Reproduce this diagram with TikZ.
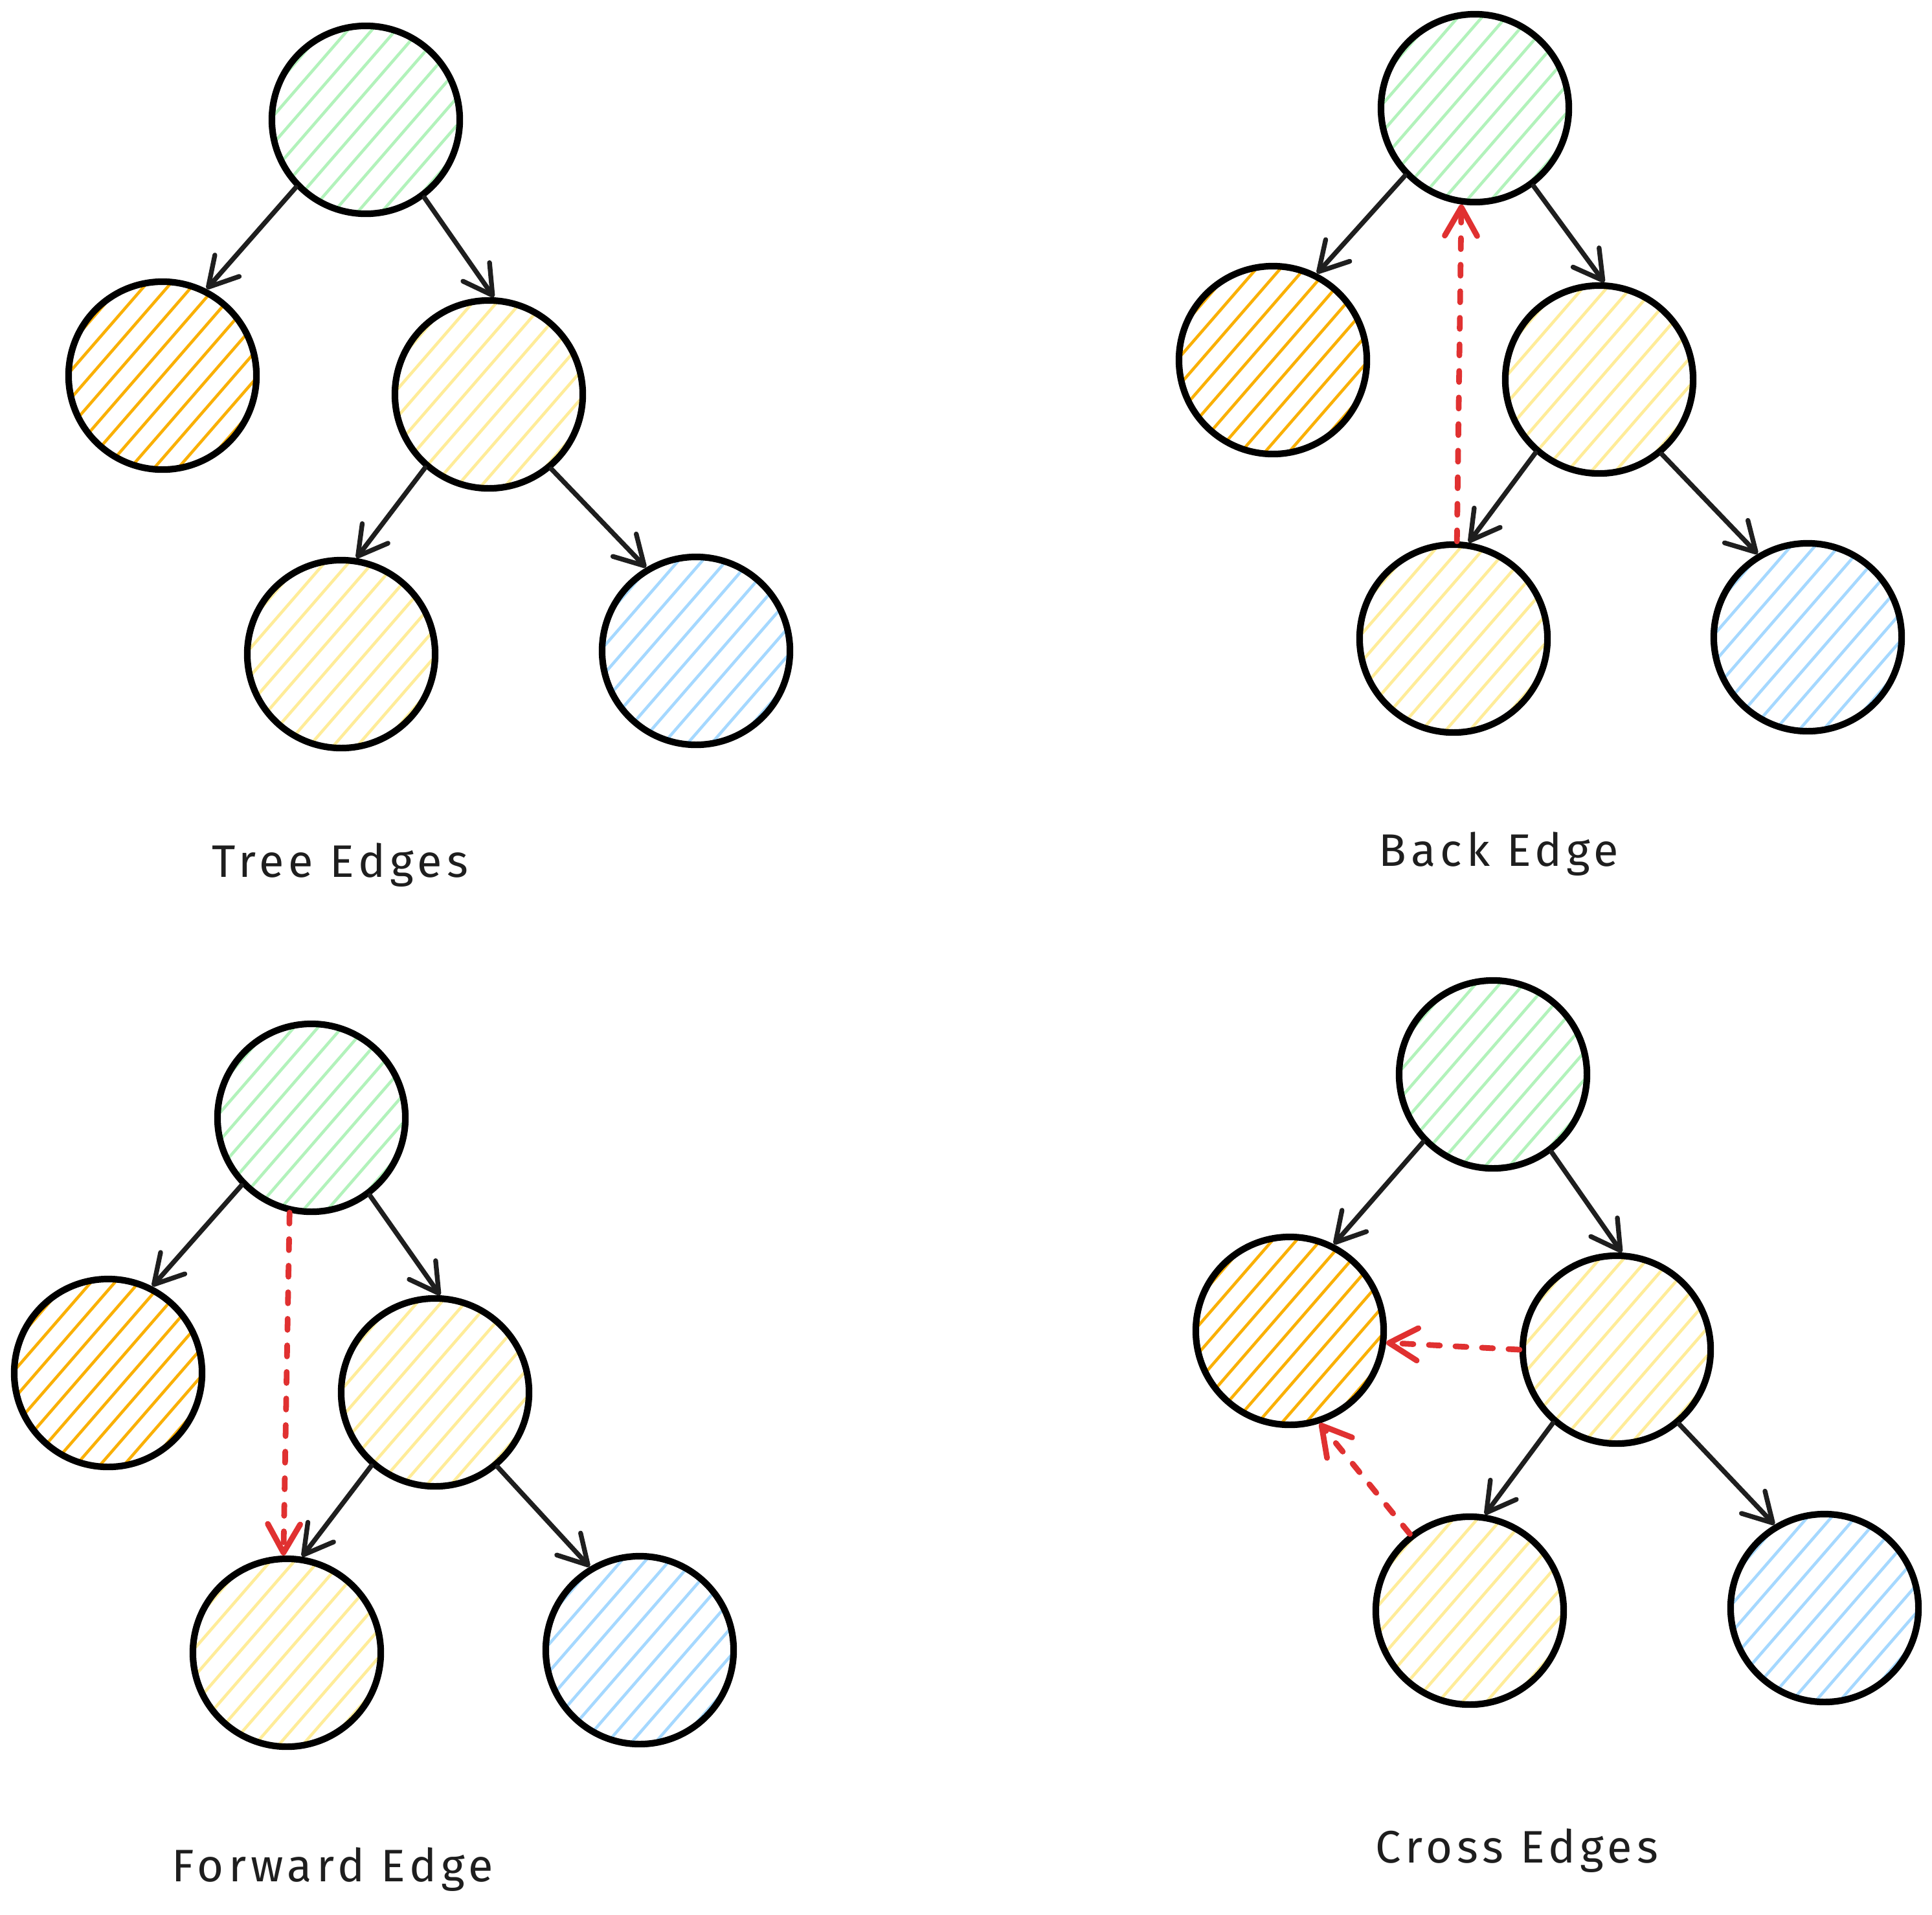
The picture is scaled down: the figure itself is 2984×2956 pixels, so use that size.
\documentclass[tikz,border=0pt]{standalone}
\usepackage{fontspec}
\setmainfont{Fira Sans}
\usetikzlibrary{arrows.meta,calc}
\definecolor{ink}{HTML}{1E1E1E}
\definecolor{hgreen}{HTML}{B2F2BB}
\definecolor{horange}{HTML}{FAB005}
\definecolor{hyellow}{HTML}{FFEC99}
\definecolor{hblue}{HTML}{A5D8FF}
\definecolor{edgered}{HTML}{E03131}
\tikzset{
  vertex/.style={circle,draw=black,line width=2.9pt,minimum size=2.9cm,inner sep=0pt,
    path picture={\foreach \k in {-7,...,7}
      \draw[#1,line width=1.3pt,line cap=round] ($(path picture bounding box.center)+(\k*0.37cm-1.65cm,-1.9cm)$) -- ++(3.3cm,3.8cm);}},
  tree/.style={-{Straight Barb[length=0.44cm,width=0.5cm,round]},ink,line width=2.1pt,line cap=round},
  extra/.style={-{Straight Barb[length=0.44cm,width=0.5cm,round]},edgered,line width=2.5pt,line cap=round,
    dash pattern=on 0.17cm off 0.24cm},
  caption/.style={text=ink,font=\fontsize{20}{24}\selectfont\addfontfeatures{LetterSpace=10}}
}
\begin{document}
\begin{tikzpicture}[x=0.01cm,y=-0.01cm]
\useasboundingbox (0,0) rectangle (2984,2956);

% tree edges
\node[vertex=hgreen] (t1) at (565,185) {};
\node[vertex=horange] (t2) at (251,580) {};
\node[vertex=hyellow] (t3) at (755,609) {};
\node[vertex=hyellow] (t4) at (527,1010) {};
\node[vertex=hblue] (t5) at (1075,1005) {};
\draw[tree] (t1.-136) -- (t2.63);
\draw[tree] (t1.-53) -- (t3.87);
\draw[tree] (t3.-131) -- (t4.81);
\draw[tree] (t3.-50) -- (t5.121);
\node[caption] (tl) at (525,1336) {Tree Edges};

% back edge
\node[vertex=hgreen] (b1) at (2278,167) {};
\node[vertex=horange] (b2) at (1966,556) {};
\node[vertex=hyellow] (b3) at (2470,586) {};
\node[vertex=hyellow] (b4) at (2245,986) {};
\node[vertex=hblue] (b5) at (2792,984) {};
\draw[tree] (b1.-136) -- (b2.63);
\draw[tree] (b1.-53) -- (b3.87);
\draw[tree] (b3.-131) -- (b4.81);
\draw[tree] (b3.-50) -- (b5.121);
\draw[extra] (b4.88) -- (b1.-98);
\node[caption] (bl) at (2315,1319) {Back Edge};

% forward edge
\node[vertex=hgreen] (f1) at (481,1726) {};
\node[vertex=horange] (f2) at (167,2120) {};
\node[vertex=hyellow] (f3) at (672,2150) {};
\node[vertex=hyellow] (f4) at (443,2552) {};
\node[vertex=hblue] (f5) at (988,2548) {};
\draw[tree] (f1.-136) -- (f2.63);
\draw[tree] (f1.-53) -- (f3.87);
\draw[tree] (f3.-131) -- (f4.81);
\draw[tree] (f3.-50) -- (f5.121);
\draw[extra] (f1.-103) -- (f4.92);
\node[caption] (fl) at (514,2887) {Forward Edge};

% cross edges
\node[vertex=hgreen] (c1) at (2306,1659) {};
\node[vertex=horange] (c2) at (1992,2055) {};
\node[vertex=hyellow] (c3) at (2497,2084) {};
\node[vertex=hyellow] (c4) at (2270,2487) {};
\node[vertex=hblue] (c5) at (2818,2483) {};
\draw[tree] (c1.-136) -- (c2.63);
\draw[tree] (c1.-53) -- (c3.87);
\draw[tree] (c3.-131) -- (c4.81);
\draw[tree] (c3.-50) -- (c5.121);
\draw[extra] (c3.west) -- (c2.-7);
\draw[extra] (c4.128) -- (c2.-72);
\node[caption] (cl) at (2343,2858) {Cross Edges};
\end{tikzpicture}
\end{document}
